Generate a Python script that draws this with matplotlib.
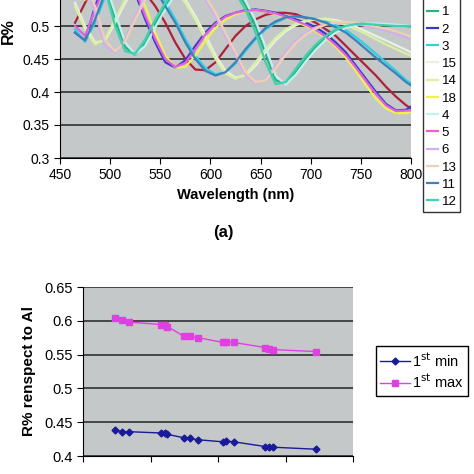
import matplotlib.pyplot as plt
from matplotlib.lines import Line2D

plt.rcParams['font.family'] = ['Liberation Sans', 'DejaVu Sans']

# ---- panel (a) spectra, sampled on a common wavelength grid ----
wl = [465, 475, 485, 495, 505, 515, 525, 535, 545, 555, 565, 575, 585, 595, 605,
      615, 625, 635, 645, 655, 665, 675, 685, 695, 705, 715, 725, 735, 745, 755,
      765, 775, 785, 795, 800]

s2 = [.49, .478, .53, .565, .58, .575, .55, .51, .475, .445, .437, .448, .47, .49, .505,
      .515, .52, .524, .525, .523, .52, .515, .51, .505, .498, .488, .475, .46, .44, .42,
      .40, .382, .372, .373, .378]
s5 = [.50, .485, .525, .56, .578, .578, .555, .515, .48, .45, .438, .444, .465, .487, .503,
      .514, .52, .523, .524, .522, .519, .514, .508, .502, .494, .484, .471, .456, .437, .417,
      .397, .38, .371, .372, .372]
s18 = [.55, .54, .545, .565, .578, .58, .565, .53, .49, .455, .437, .438, .455, .478, .497,
       .51, .518, .522, .524, .522, .518, .513, .507, .5, .492, .482, .468, .452, .432, .41,
       .39, .375, .368, .368, .37]
s16 = [.505, .535, .565, .58, .585, .58, .57, .55, .53, .505, .475, .45, .434, .433, .445,
       .465, .485, .50, .51, .517, .52, .52, .518, .512, .505, .495, .485, .47, .455, .44,
       .425, .408, .393, .38, .375]
s11 = [.49, .478, .51, .55, .575, .585, .585, .575, .555, .53, .505, .475, .45, .432, .425,
       .43, .445, .465, .482, .497, .507, .513, .515, .513, .51, .505, .498, .49, .478, .465,
       .452, .44, .428, .415, .41]
s3 = [.495, .476, .505, .545, .572, .584, .586, .578, .56, .536, .51, .48, .455, .436, .427,
      .43, .443, .462, .48, .495, .505, .512, .514, .513, .511, .507, .501, .494, .483, .471,
      .458, .445, .432, .418, .413]
s14 = [.53, .495, .472, .48, .51, .54, .565, .575, .578, .57, .555, .535, .51, .48, .45,
       .428, .42, .427, .445, .465, .482, .495, .503, .508, .51, .51, .507, .502, .495, .488,
       .48, .472, .465, .458, .455]
s15 = [.535, .50, .475, .478, .505, .535, .56, .573, .578, .572, .558, .54, .515, .486, .456,
       .432, .422, .425, .44, .46, .478, .492, .501, .507, .51, .511, .509, .505, .499, .492,
       .485, .478, .471, .464, .46]
s6 = [.58, .565, .52, .47, .46, .48, .515, .545, .565, .578, .58, .575, .56, .54, .515,
      .485, .455, .425, .413, .42, .44, .46, .478, .49, .498, .503, .505, .505, .503, .50,
      .497, .493, .488, .483, .48]
s13 = [.585, .57, .53, .478, .462, .476, .51, .54, .562, .576, .58, .577, .564, .545, .52,
       .49, .46, .43, .415, .418, .436, .456, .474, .487, .496, .502, .505, .506, .505, .502,
       .499, .496, .492, .487, .484]
s12 = [.58, .585, .58, .555, .50, .462, .458, .48, .51, .535, .555, .57, .578, .58, .577,
       .568, .55, .525, .49, .445, .412, .415, .435, .455, .472, .485, .495, .50, .503, .503,
       .502, .501, .50, .50, .50]
s1 = [.578, .586, .583, .562, .51, .468, .456, .474, .504, .53, .552, .568, .577, .58, .578,
      .57, .555, .532, .50, .458, .418, .412, .43, .45, .468, .482, .493, .499, .503, .504,
      .503, .502, .501, .50, .499]
s4 = [.575, .584, .584, .565, .52, .475, .457, .47, .498, .525, .548, .565, .576, .58, .579,
      .572, .558, .538, .508, .468, .425, .411, .426, .446, .464, .479, .49, .497, .502, .504,
      .504, .503, .502, .501, .50]

series = [('16', s16, '#b0203a'), ('1', s1, '#2db07a'), ('2', s2, '#3a3ac8'),
          ('3', s3, '#30d0e0'), ('15', s15, '#e8f0e0'), ('14', s14, '#d8f0a0'),
          ('18', s18, '#f0f050'), ('4', s4, '#c0f0f0'), ('5', s5, '#e060e0'),
          ('6', s6, '#d0b0f0'), ('13', s13, '#f0d0b0'), ('11', s11, '#4080b8'),
          ('12', s12, '#40d0b0')]

# ---- panel (b) extrema ----
b_wl = [773.5, 778.9, 783.8, 808.0, 811.0, 812.5, 824.8, 829.0, 835.4, 853.7, 856.2,
        861.6, 885.0, 887.5, 890.7, 922.8]
b_min = [.439, .436, .436, .434, .434, .432, .427, .426, .424, .421, .422, .421, .414,
         .413, .413, .410]
b_max = [.6045, .601, .598, .5945, .594, .5915, .577, .577, .575, .568, .569, .568,
         .5604, .5584, .5574, .5545]

bg = '#c4c8c8'
fig = plt.figure(figsize=(4.74, 4.74), dpi=100)

# top panel (extends above figure top, as in the cropped original)
ax = fig.add_axes([60 / 474, 316 / 474, 351 / 474, 198 / 474])
ax.set_facecolor(bg)
for lab, ys, c in series:
    ax.plot(wl, ys, color=c, lw=1.6, label=lab)
ax.set_xlim(450, 800)
ax.set_ylim(0.3, 0.6)
ax.set_xticks(range(450, 801, 50))
ax.set_yticks([0.3, 0.35, 0.4, 0.45, 0.5, 0.55, 0.6])
ax.set_yticklabels(['0.3', '0.35', '0.4', '0.45', '0.5', '', ''])
ax.yaxis.grid(True, color='#303030', lw=1.2)
ax.set_axisbelow(True)
for sp in ['top', 'right']:
    ax.spines[sp].set_visible(False)
ax.tick_params(labelsize=10, direction='out', length=4)
ax.set_xlabel('Wavelength (nm)', fontsize=10.5, fontweight='bold', labelpad=4)
ax.set_ylabel('R%', fontsize=11.5, fontweight='bold', labelpad=4)
ax.yaxis.set_label_coords(-0.125, 0.64)
handles = [Line2D([], [], color=c, lw=1.6) for _, _, c in series]
fig.legend(handles, [s[0] for s in series], loc='lower left',
           bbox_to_anchor=(423 / 474, 262 / 474), fontsize=9.5, frameon=True,
           fancybox=False, edgecolor='black', handlelength=0.8, handletextpad=0.3,
           labelspacing=0.38, borderpad=0.3, borderaxespad=0)
fig.text(223 / 474, 1 - 232 / 474, '(a)', fontsize=12, fontweight='bold',
         ha='center', va='center')

# bottom panel
bx = fig.add_axes([83 / 474, 18 / 474, 270 / 474, 169 / 474])
bx.set_facecolor(bg)
bx.plot(b_wl, b_min, color='#1a1a9a', marker='D', ms=3.5, lw=1,
        label=r'1$^{\mathrm{st}}$ min')
bx.plot(b_wl, b_max, color='#e040e0', marker='s', ms=4, lw=1,
        label=r'1$^{\mathrm{st}}$ max')
bx.set_xlim(750, 950)
bx.set_ylim(0.4, 0.65)
bx.set_xticks([750, 800, 850, 900, 950])
bx.set_yticks([0.4, 0.45, 0.5, 0.55, 0.6, 0.65])
bx.set_yticklabels(['0.4', '0.45', '0.5', '0.55', '0.6', '0.65'])
bx.yaxis.grid(True, color='#303030', lw=1.2)
bx.set_axisbelow(True)
for sp in ['top', 'right']:
    bx.spines[sp].set_visible(False)
bx.tick_params(labelsize=10.5, direction='out', length=4)
bx.tick_params(axis='x', pad=9)
bx.set_ylabel('R% renspect to Al', fontsize=11, fontweight='bold', labelpad=6)
bx.legend(loc='center left', bbox_to_anchor=(376 / 474, 1 - 371 / 474),
          bbox_transform=fig.transFigure, fontsize=10.5, frameon=True, fancybox=False,
          edgecolor='black', framealpha=1, handlelength=2, handletextpad=0.2,
          labelspacing=0.2, borderpad=0.3, borderaxespad=0)

fig.savefig('out.png', dpi=100)
